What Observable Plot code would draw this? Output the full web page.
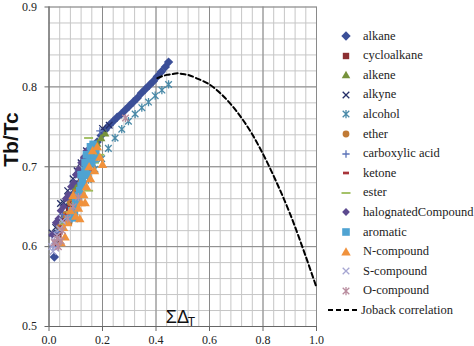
<!DOCTYPE html>
<html><head><meta charset="utf-8">
<script src="https://cdn.jsdelivr.net/npm/d3@7"></script>
<script src="https://cdn.jsdelivr.net/npm/@observablehq/plot@0.6"></script>
<style>
body{margin:0;background:#fff}
#wrap{position:relative;width:474px;height:346px;font-family:"Liberation Serif","Times New Roman","DejaVu Serif",serif}
.row{position:absolute;height:20px;display:flex;align-items:center;font-size:12.5px;color:#222;white-space:nowrap;font-family:"Liberation Serif","Times New Roman","DejaVu Serif",serif}
.row svg{flex:none}
#wrap svg text{font-family:"Liberation Serif","Times New Roman","DejaVu Serif",serif}
#wrap svg text.sans{font-family:"Liberation Sans",Arial,"DejaVu Sans",sans-serif}
</style>
</head><body>
<div id="wrap"></div>
<script>
// ---- data (ΣΔT, Tb/Tc) ----
const alkane = [[0.02,0.587],[0.03,0.603],[0.045,0.622],[0.06,0.638],[0.075,0.652],[0.09,0.666],[0.105,0.678],[0.12,0.69],[0.135,0.702],[0.15,0.712],[0.165,0.722],[0.18,0.731],[0.195,0.739],[0.21,0.746],[0.225,0.752],[0.24,0.757],[0.255,0.762],[0.27,0.766],[0.285,0.771],[0.30,0.776],[0.315,0.781],[0.33,0.786],[0.345,0.792],[0.36,0.797],[0.375,0.802],[0.39,0.807],[0.405,0.813],[0.42,0.819],[0.435,0.825],[0.447,0.831]];
const cycloalkane = [[0.025,0.605],[0.035,0.615],[0.045,0.625],[0.06,0.635],[0.075,0.648],[0.09,0.66],[0.105,0.672],[0.12,0.684],[0.14,0.698]];
const alkene = [[0.21,0.742],[0.195,0.736],[0.18,0.729],[0.16,0.718],[0.14,0.705],[0.12,0.69],[0.1,0.675],[0.08,0.658],[0.06,0.64],[0.045,0.628],[0.11,0.662],[0.13,0.675]];
const alkyne = [[0.012,0.617],[0.025,0.624],[0.043,0.654],[0.055,0.655],[0.07,0.67],[0.09,0.685],[0.105,0.695],[0.12,0.705],[0.14,0.72],[0.225,0.752],[0.2,0.748]];
const alcohol = [[0.447,0.803],[0.422,0.796],[0.397,0.789],[0.372,0.781],[0.347,0.774],[0.322,0.766],[0.297,0.757],[0.272,0.747],[0.247,0.736],[0.222,0.723],[0.197,0.710],[0.172,0.697],[0.147,0.684],[0.122,0.67],[0.097,0.655],[0.072,0.64],[0.05,0.625],[0.03,0.61]];
const ether = [[0.04,0.625],[0.06,0.64],[0.08,0.655],[0.1,0.668],[0.12,0.68],[0.14,0.695],[0.16,0.708],[0.075,0.63]];
const carboxylicAcid = [[0.106,0.635],[0.015,0.6],[0.03,0.618],[0.05,0.64],[0.07,0.662],[0.09,0.68],[0.11,0.695],[0.13,0.71],[0.15,0.72],[0.19,0.745]];
const ketone = [[0.05,0.625],[0.07,0.64],[0.09,0.655],[0.11,0.668],[0.13,0.68],[0.15,0.694]];
const ester = [[0.148,0.736],[0.148,0.67],[0.06,0.628],[0.08,0.643],[0.1,0.655],[0.12,0.667],[0.17,0.705],[0.19,0.715]];
const halognated = [[0.012,0.615],[0.025,0.63],[0.043,0.645],[0.062,0.66],[0.082,0.675],[0.1,0.69],[0.12,0.705],[0.14,0.72],[0.035,0.635],[0.055,0.65],[0.072,0.665],[0.092,0.68],[0.11,0.697],[0.13,0.712]];
const aromatic = [[0.165,0.728],[0.16,0.72],[0.15,0.715],[0.145,0.705],[0.14,0.70],[0.135,0.695],[0.13,0.69],[0.125,0.683],[0.12,0.676],[0.115,0.67],[0.11,0.664],[0.105,0.657],[0.1,0.65],[0.095,0.643],[0.09,0.636],[0.155,0.71],[0.17,0.71],[0.12,0.69],[0.135,0.705],[0.16,0.705],[0.145,0.69],[0.1,0.66],[0.155,0.725],[0.175,0.72],[0.14,0.715],[0.085,0.645],[0.075,0.635]];
const nCompound = [[0.163,0.72],[0.2,0.703],[0.19,0.712],[0.155,0.685],[0.17,0.695],[0.14,0.675],[0.13,0.665],[0.12,0.655],[0.11,0.648],[0.09,0.664],[0.08,0.645],[0.1,0.638],[0.07,0.63],[0.054,0.624],[0.06,0.612],[0.045,0.605],[0.15,0.70],[0.18,0.725],[0.135,0.655],[0.115,0.635]];
const sCompound = [[0.01,0.6],[0.02,0.607],[0.03,0.614],[0.015,0.594],[0.04,0.622],[0.05,0.632],[0.025,0.598]];
const oCompound = [[0.286,0.761],[0.02,0.605],[0.03,0.61],[0.035,0.6],[0.05,0.62],[0.07,0.635],[0.09,0.65],[0.11,0.662],[0.045,0.607]];
const jobackX = [0.405,0.42,0.44,0.46,0.48,0.50,0.52,0.55,0.60,0.65,0.70,0.75,0.80,0.85,0.90,0.95,1.0];
const jobackY = [0.811,0.813,0.815,0.816,0.817,0.816,0.815,0.811,0.803,0.789,0.770,0.746,0.716,0.681,0.642,0.597,0.549];
const xTicks = [0,0.2,0.4,0.6,0.8,1.0];
const yTicks = [0.5,0.6,0.7,0.8,0.9];

// ---- marker shapes (Excel-like) ----
const R = s => Math.sqrt(s/Math.PI);
const shapes = {
  diamond:{draw(c,s){const r=R(s)*1.3;c.moveTo(0,-r);c.lineTo(r,0);c.lineTo(0,r);c.lineTo(-r,0);c.closePath();}},
  square:{draw(c,s){const r=R(s);c.rect(-r,-r,2*r,2*r);}},
  triangle:{draw(c,s){const r=R(s)*1.25;c.moveTo(0,-r);c.lineTo(r,r*0.75);c.lineTo(-r,r*0.75);c.closePath();}},
  times:{draw(c,s){const r=R(s);c.moveTo(-r,-r);c.lineTo(r,r);c.moveTo(-r,r);c.lineTo(r,-r);}},
  asterisk:{draw(c,s){const r=R(s);c.moveTo(-r,-r);c.lineTo(r,r);c.moveTo(-r,r);c.lineTo(r,-r);c.moveTo(0,-r*1.25);c.lineTo(0,r*1.25);}},
  plus:{draw(c,s){const r=R(s)*1.1;c.moveTo(-r,0);c.lineTo(r,0);c.moveTo(0,-r);c.lineTo(0,r);}},
  circle:{draw(c,s){const r=R(s);c.moveTo(r,0);c.arc(0,0,r,0,2*Math.PI);}},
  dashShort:{draw(c,s){const r=R(s);c.rect(-r,-r*0.45,2*r,r*0.9);}},
  dashLong:{draw(c,s){const r=R(s);c.rect(-r*1.5,-r*0.3,3*r,r*0.6);}}
};

const series = [
  {name:"alkane", data:alkane, shape:"diamond", color:"#3b4f98", filled:true, r:3.6},
  {name:"cycloalkane", data:cycloalkane, shape:"square", color:"#8c2f32", filled:true, r:3.2},
  {name:"alkene", data:alkene, shape:"triangle", color:"#76923c", filled:true, r:3.4},
  {name:"alkyne", data:alkyne, shape:"times", color:"#252f68", filled:false, r:3.3},
  {name:"alcohol", data:alcohol, shape:"asterisk", color:"#4a8aa8", filled:false, r:3.3},
  {name:"ether", data:ether, shape:"circle", color:"#c07a35", filled:true, r:3.4},
  {name:"carboxylic acid", data:carboxylicAcid, shape:"plus", color:"#5b73b8", filled:false, r:3.3},
  {name:"ketone", data:ketone, shape:"dashShort", color:"#a8343a", filled:true, r:3},
  {name:"ester", data:ester, shape:"dashLong", color:"#9bbb59", filled:true, r:3},
  {name:"halognatedCompound", data:halognated, shape:"diamond", color:"#5c4a8f", filled:true, r:3.0},
  {name:"aromatic", data:aromatic, shape:"square", color:"#4fa3d2", filled:true, r:3.8},
  {name:"N-compound", data:nCompound, shape:"triangle", color:"#f0923d", filled:true, r:3.8},
  {name:"S-compound", data:sCompound, shape:"times", color:"#a6a6d2", filled:false, r:3.3},
  {name:"O-compound", data:oCompound, shape:"asterisk", color:"#b98c9e", filled:false, r:3.3}
];

const xMinor = d3.range(0, 1.0001, 0.04).map(v => +v.toFixed(2));
const yMinor = d3.range(0.5, 0.9001, 0.02).map(v => +v.toFixed(2));
const joback = jobackX.map((x,i) => ({x, y: jobackY[i]}));

const plot = Plot.plot({
  width: 474, height: 346,
  marginTop: 6.5, marginBottom: 20, marginLeft: 48.5, marginRight: 158,
  style: {fontSize: "12px", color: "#222", background: "#fff"},
  x: {domain: [0, 1], label: null},
  y: {domain: [0.5, 0.9], label: null},
  marks: [
    Plot.ruleX(xMinor, {stroke: "#c6c6c6", strokeWidth: 1}),
    Plot.ruleY(yMinor, {stroke: "#c6c6c6", strokeWidth: 1}),
    Plot.ruleX(xTicks, {stroke: "#8a8a8a", strokeWidth: 1}),
    Plot.ruleY(yTicks, {stroke: "#8a8a8a", strokeWidth: 1}),
    Plot.axisX({ticks: xTicks, tickFormat: ".1f", tickSize: 5, tickPadding: 4, stroke: "#666", fill: "#222", fontSize: 12}),
    Plot.axisY({ticks: yTicks, tickFormat: ".1f", tickSize: 4, tickPadding: 8, stroke: "#666", fill: "#222", fontSize: 12}),
    Plot.ruleX([0], {stroke: "#666"}),
    Plot.ruleY([0.5], {stroke: "#666"}),
    ...series.map(s => Plot.dot(s.data, {
      x: d => d[0], y: d => d[1], symbol: shapes[s.shape], r: s.r,
      fill: s.filled ? s.color : "none",
      stroke: s.filled ? "none" : s.color,
      strokeWidth: 1.3
    })),
    Plot.line(joback, {x: "x", y: "y", curve: "catmull-rom", stroke: "#000", strokeWidth: 2, strokeDasharray: "5,3"}),
    Plot.text(["Tb/Tc"], {frameAnchor: "left", dx: -38, rotate: -90, fontSize: 21, fontWeight: "bold", fill: "#111"}),
    Plot.text(["ΣΔ"], {frameAnchor: "bottom", textAnchor: "start", lineAnchor: "bottom", dx: -17, dy: -4, fontSize: 18, fill: "#111"}),
    Plot.text(["T"], {frameAnchor: "bottom", textAnchor: "start", lineAnchor: "bottom", dx: 5, dy: -1, fontSize: 12, fill: "#111"})
  ]
});
d3.select(plot).selectAll("text").filter(function() { return ["Tb/Tc", "ΣΔ", "T"].includes(this.textContent); }).classed("sans", true);
const wrap = document.getElementById("wrap");
wrap.appendChild(plot);
plot.style.position = "absolute"; plot.style.left = "0"; plot.style.top = "0";

// ---- legend ----
const rowStep = 19.6, firstY = 36;
series.forEach((s, i) => {
  const row = document.createElement("div");
  row.className = "row";
  row.style.left = "336px";
  row.style.top = (firstY + i*rowStep - 10) + "px";
  const path = d3.symbol(shapes[s.shape], s.r*s.r*Math.PI)();
  row.innerHTML = `<svg width="20" height="20"><path transform="translate(10,10)" d="${path}" fill="${s.filled ? s.color : "none"}" stroke="${s.filled ? "none" : s.color}" stroke-width="1.3"/></svg><span style="margin-left:7px">${s.name}</span>`;
  wrap.appendChild(row);
});
const jr = document.createElement("div");
jr.className = "row";
jr.style.left = "328px";
jr.style.top = (firstY + series.length*rowStep - 10) + "px";
jr.innerHTML = `<svg width="31" height="20"><line x1="0" x2="31" y1="10" y2="10" stroke="#000" stroke-width="2" stroke-dasharray="5,3"/></svg><span style="margin-left:2px">Joback correlation</span>`;
wrap.appendChild(jr);
</script>
</body></html>
